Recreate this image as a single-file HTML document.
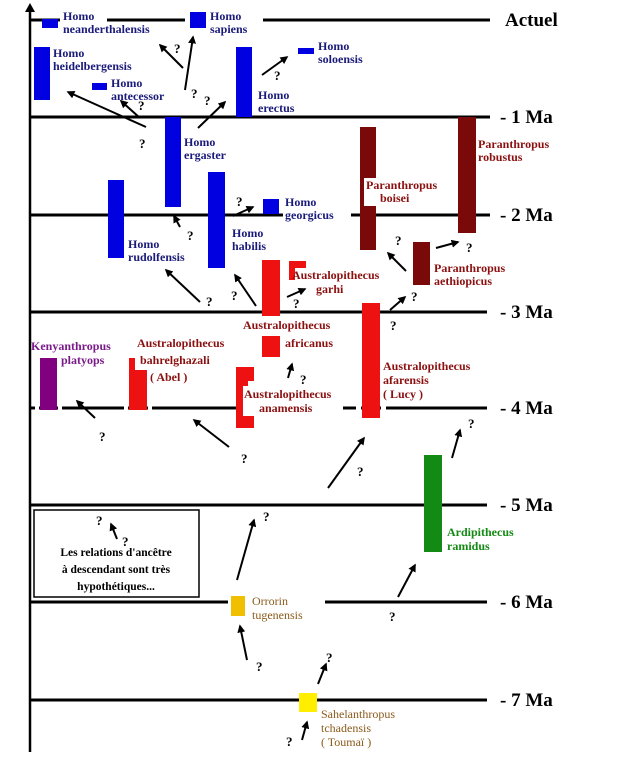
<!DOCTYPE html>
<html><head><meta charset="utf-8"><style>
html,body{margin:0;padding:0;background:#fff;}
svg{display:block;font-family:"Liberation Serif",serif;font-weight:bold;}
.n{fill:#1a1a7a;font-size:12px;}
.r{fill:#8b1010;font-size:12px;}
.q{fill:#000;font-size:13px;}
.t{fill:#000;font-size:19px;}
</style></head><body>
<svg width="622" height="759" viewBox="0 0 622 759" xmlns="http://www.w3.org/2000/svg">
<defs><marker id="a" viewBox="0 0 10 10" refX="8" refY="5" markerWidth="4" markerHeight="4" orient="auto"><path d="M0,0L10,5L0,10z" fill="#000"/></marker></defs>
<line x1="30" y1="8" x2="30" y2="752" stroke="#000" stroke-width="2.5"/>
<path d="M25,12 L30,3 L35,12z" fill="#000"/>
<g stroke="#000" stroke-width="3">
<line x1="30" y1="20" x2="60" y2="20"/><line x1="107" y1="20" x2="185" y2="20"/><line x1="263" y1="20" x2="490" y2="20"/>
<line x1="30" y1="117" x2="490" y2="117"/>
<line x1="30" y1="215" x2="490" y2="215"/>
<line x1="30" y1="312" x2="487" y2="312"/>
<line x1="30" y1="408" x2="487" y2="408"/>
<line x1="30" y1="505" x2="487" y2="505"/>
<line x1="30" y1="602" x2="228" y2="602"/><line x1="325" y1="602" x2="487" y2="602"/>
<line x1="30" y1="700" x2="487" y2="700"/>
</g>
<g fill="#fff"><rect x="35" y="404" width="4" height="8"/><rect x="58" y="404" width="4" height="8"/><rect x="124" y="404" width="4" height="8"/><rect x="148" y="404" width="4" height="8"/><rect x="356" y="404" width="5" height="8"/><rect x="381" y="404" width="5" height="8"/></g>
<text class="t" x="505" y="26">Actuel</text>
<text class="t" x="500" y="123">- 1 Ma</text>
<text class="t" x="500" y="221">- 2 Ma</text>
<text class="t" x="500" y="318">- 3 Ma</text>
<text class="t" x="500" y="414">- 4 Ma</text>
<text class="t" x="500" y="511">- 5 Ma</text>
<text class="t" x="500" y="608">- 6 Ma</text>
<text class="t" x="500" y="706">- 7 Ma</text>
<g fill="#0000e0">
<rect x="42" y="19" width="16" height="9"/>
<rect x="190" y="12" width="16" height="16"/>
<rect x="34" y="47" width="16" height="53"/>
<rect x="92" y="83" width="15" height="7"/>
<rect x="236" y="47" width="16" height="70"/>
<rect x="298" y="48" width="16" height="6"/>
<rect x="165" y="117" width="16" height="90"/>
<rect x="108" y="180" width="16" height="78"/>
<rect x="208" y="172" width="17" height="96"/>
<rect x="263" y="199" width="16" height="15"/>
</g>
<text class="n" x="63" y="20">Homo</text><text class="n" x="63" y="33">neanderthalensis</text>
<text class="n" x="210" y="20">Homo</text><text class="n" x="210" y="33">sapiens</text>
<text class="n" x="53" y="57">Homo</text><text class="n" x="53" y="70">heidelbergensis</text>
<text class="n" x="111" y="87">Homo</text><text class="n" x="111" y="100">antecessor</text>
<text class="n" x="258" y="99">Homo</text><text class="n" x="258" y="112">erectus</text>
<text class="n" x="318" y="50">Homo</text><text class="n" x="318" y="63">soloensis</text>
<text class="n" x="184" y="146">Homo</text><text class="n" x="184" y="159">ergaster</text>
<text class="n" x="128" y="248">Homo</text><text class="n" x="128" y="261">rudolfensis</text>
<text class="n" x="232" y="237">Homo</text><text class="n" x="232" y="250">habilis</text>
<rect x="283" y="195" width="68" height="26" fill="#fff"/>
<text class="n" x="285" y="206">Homo</text><text class="n" x="285" y="219">georgicus</text>
<g fill="#7a0a0a">
<rect x="360" y="127" width="16" height="123"/>
<rect x="458" y="117" width="18" height="116"/>
<rect x="413" y="242" width="17" height="43"/>
</g>
<rect x="364" y="178" width="56" height="28" fill="#fff"/>
<text class="r" x="366" y="189">Paranthropus</text><text class="r" x="380" y="202">boisei</text>
<text class="r" x="478" y="148">Paranthropus</text><text class="r" x="478" y="161">robustus</text>
<text class="r" x="434" y="272">Paranthropus</text><text class="r" x="434" y="285">aethiopicus</text>
<g fill="#ee1111">
<path d="M289,261h17v7h-11v12h-6z"/>
<rect x="262" y="260" width="18" height="56"/>
<rect x="262" y="336" width="18" height="21"/>
<rect x="362" y="303" width="18" height="115"/>
<path d="M236,367h18v14h-6v16h6v31h-18z"/>
<path d="M129,358h6v12h12v40h-18z"/>
</g>
<rect x="243" y="386" width="100" height="30" fill="#fff"/>
<rect x="236" y="386" width="7" height="30" fill="#ee1111"/>
<rect x="40" y="358" width="17" height="52" fill="#800080"/>
<text class="r" x="292" y="279">Australopithecus</text><text class="r" x="316" y="293">garhi</text>
<text class="r" x="243" y="329">Australopithecus</text><text class="r" x="285" y="347">africanus</text>
<text class="r" x="383" y="370">Australopithecus</text><text class="r" x="383" y="384">afarensis</text><text class="r" x="383" y="398">( Lucy )</text>
<text class="r" x="244" y="398">Australopithecus</text><text class="r" x="259" y="412">anamensis</text>
<text class="r" x="137" y="347">Australopithecus</text><text class="r" x="140" y="364">bahrelghazali</text><text class="r" x="150" y="381">( Abel )</text>
<text x="31" y="350" style="fill:#7a1a8a;font-size:12px">Kenyanthropus</text><text x="61" y="364" style="fill:#7a1a8a;font-size:12px">platyops</text>
<rect x="424" y="455" width="18" height="97" fill="#138a13"/>
<text x="447" y="536" style="fill:#138a13;font-size:12px">Ardipithecus</text><text x="447" y="550" style="fill:#138a13;font-size:12px">ramidus</text>
<rect x="231" y="596" width="14" height="20" fill="#f0c000"/>
<text x="252" y="605" style="fill:#8a5a1a;font-size:12px;font-weight:normal">Orrorin</text><text x="252" y="619" style="fill:#8a5a1a;font-size:12px;font-weight:normal">tugenensis</text>
<rect x="299" y="693" width="18" height="19" fill="#ffee00"/>
<text x="321" y="718" style="fill:#8a5a1a;font-size:12px;font-weight:normal">Sahelanthropus</text><text x="321" y="732" style="fill:#8a5a1a;font-size:12px;font-weight:normal">tchadensis</text><text x="321" y="746" style="fill:#8a5a1a;font-size:12px;font-weight:normal">( Toumaï )</text>
<rect x="34" y="510" width="165" height="87" fill="#fff" stroke="#000" stroke-width="1.5"/>
<text x="116" y="556" text-anchor="middle" style="font-size:11.5px">Les relations d'ancêtre</text>
<text x="116" y="573" text-anchor="middle" style="font-size:11.5px">à descendant sont très</text>
<text x="116" y="590" text-anchor="middle" style="font-size:11.5px">hypothétiques...</text>
<g stroke="#000" stroke-width="2" marker-end="url(#a)">
<line x1="183" y1="68" x2="160" y2="45"/>
<line x1="185" y1="90" x2="193" y2="37"/>
<line x1="146" y1="127" x2="68" y2="92"/>
<line x1="140" y1="118" x2="121" y2="101"/>
<line x1="198" y1="128" x2="225" y2="102"/>
<line x1="262" y1="75" x2="287" y2="57"/>
<line x1="233" y1="216" x2="253" y2="207"/>
<line x1="180" y1="227" x2="174" y2="216"/>
<line x1="200" y1="302" x2="166" y2="270"/>
<line x1="256" y1="306" x2="235" y2="275"/>
<line x1="287" y1="297" x2="305" y2="289"/>
<line x1="406" y1="271" x2="388" y2="253"/>
<line x1="436" y1="248" x2="458" y2="242"/>
<line x1="390" y1="310" x2="405" y2="297"/>
<line x1="288" y1="378" x2="292" y2="364"/>
<line x1="95" y1="418" x2="77" y2="401"/>
<line x1="229" y1="447" x2="194" y2="420"/>
<line x1="328" y1="488" x2="364" y2="438"/>
<line x1="452" y1="458" x2="460" y2="430"/>
<line x1="237" y1="580" x2="254" y2="520"/>
<line x1="398" y1="597" x2="415" y2="565"/>
<line x1="247" y1="660" x2="240" y2="626"/>
<line x1="318" y1="684" x2="326" y2="664"/>
<line x1="302" y1="740" x2="307" y2="722"/>
<line x1="117" y1="539" x2="111" y2="524"/>
</g>
<g class="q">
<text x="174" y="53">?</text><text x="191" y="98">?</text><text x="204" y="105">?</text>
<text x="138" y="110">?</text><text x="139" y="148">?</text><text x="274" y="80">?</text>
<text x="236" y="206">?</text><text x="187" y="240">?</text><text x="206" y="306">?</text>
<text x="231" y="300">?</text><text x="293" y="308">?</text><text x="395" y="245">?</text>
<text x="466" y="252">?</text><text x="411" y="301">?</text><text x="390" y="330">?</text>
<text x="300" y="384">?</text><text x="99" y="441">?</text><text x="241" y="463">?</text>
<text x="357" y="476">?</text><text x="468" y="428">?</text><text x="263" y="521">?</text>
<text x="389" y="621">?</text><text x="256" y="671">?</text><text x="326" y="662">?</text>
<text x="286" y="746">?</text><text x="96" y="525">?</text><text x="122" y="546">?</text>
</g>
</svg>
</body></html>
